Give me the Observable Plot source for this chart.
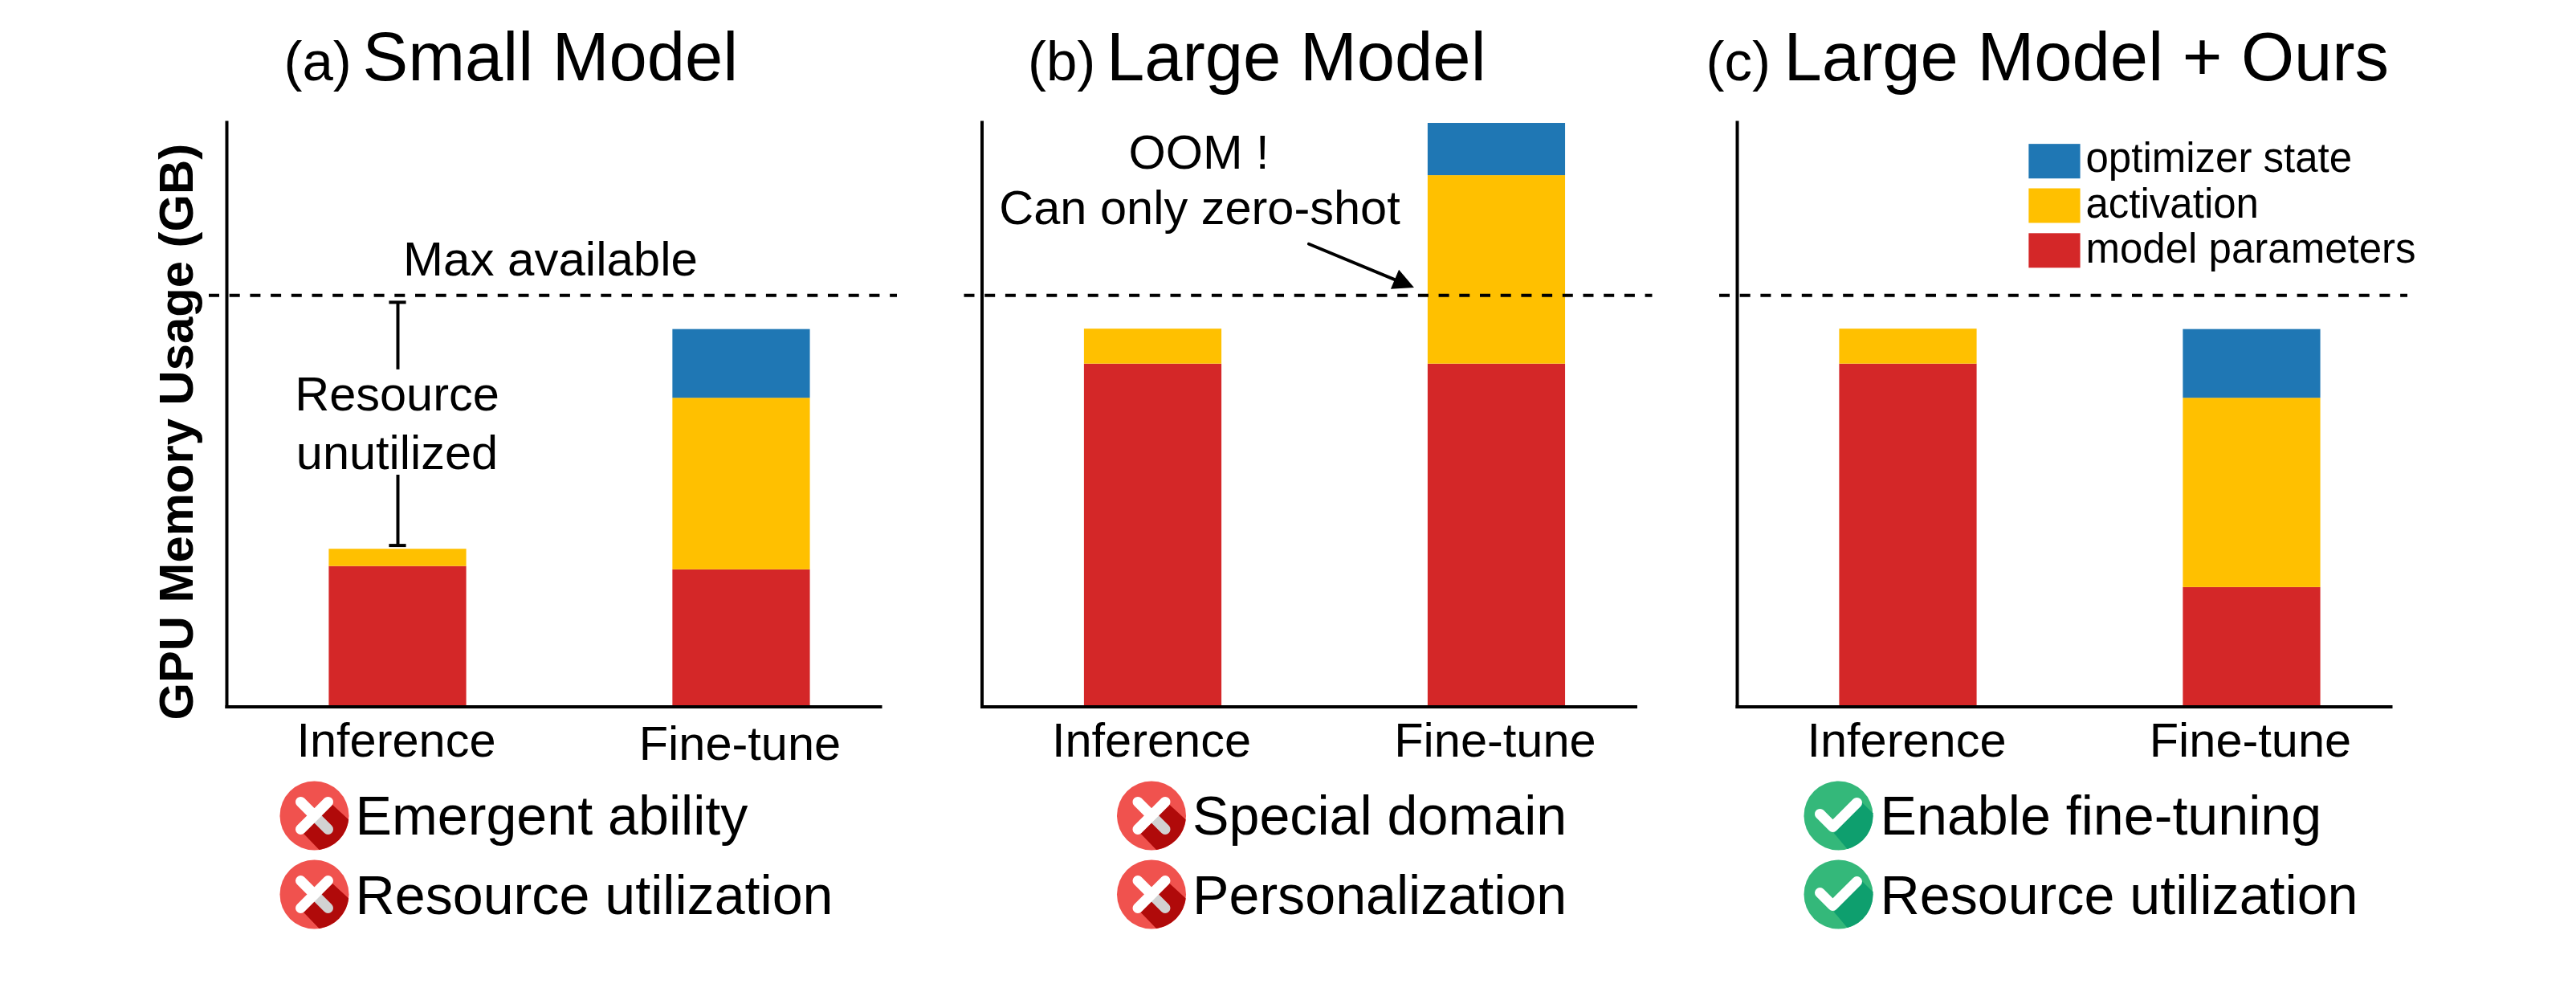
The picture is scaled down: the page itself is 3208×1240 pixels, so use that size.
<!DOCTYPE html>
<html>
<head>
<meta charset="utf-8">
<style>
html,body{margin:0;padding:0;background:#fff;overflow:hidden}
svg{display:block}
</style>
<script src="https://cdn.jsdelivr.net/npm/d3@7"></script>
<script src="https://cdn.jsdelivr.net/npm/@observablehq/plot@0.6"></script>
</head>
<body>
<div id="chart"></div>
<script>
const panels = ["a", "b", "c"];
const panelTags = ["(a)", "(b)", "(c)"];
const panelTitles = ["Small Model", "Large Model", "Large Model + Ours"];
const stages = ["Inference", "Fine-tune"];
const series = ["model parameters", "activation", "optimizer state"];
const seriesColors = ["#D42728", "#FFC000", "#1F77B4"];
const yTitle = "GPU Memory Usage (GB)";
const maxAvailable = 10;

const smallInference = [3.41, 0.42, 0];
const smallFineTune = [3.33, 4.17, 1.67];
const largeInference = [8.33, 0.85, 0];
const largeFineTune = [8.33, 4.58, 1.27];
const oursInference = [8.33, 0.85, 0];
const oursFineTune = [2.90, 4.60, 1.67];

const featureLabels = [
  ["Emergent ability", "Resource utilization"],
  ["Special domain", "Personalization"],
  ["Enable fine-tuning", "Resource utilization"]
];
const featureOk = [false, false, true];

const table = [
  ["a", "Inference", smallInference], ["a", "Fine-tune", smallFineTune],
  ["b", "Inference", largeInference], ["b", "Fine-tune", largeFineTune],
  ["c", "Inference", oursInference], ["c", "Fine-tune", oursFineTune]
];
const rows = table.flatMap(([panel, stage, vals]) =>
  vals.map((value, i) => ({panel, stage, series: series[i], value})).filter(d => d.value > 0));
const tickRows = table.map(([panel, stage]) => ({panel, stage}));

const FONT = "'Liberation Sans', Arial, sans-serif";

/* small glyphs, drawn as Plot symbols (unit = px at r = 43) */
const shape = (fn) => ({draw(ctx, size) { fn(ctx, Math.sqrt(size / Math.PI) / 43); }});
const disc = shape((c, k) => { c.moveTo(43 * k, 0); c.arc(0, 0, 43 * k, 0, 2 * Math.PI); });
const crossShadow = shape((c, k) => {
  c.moveTo(-15.7 * k, 20 * k); c.lineTo(6 * k, 42.6 * k);
  c.arc(0, 0, 43 * k, Math.atan2(41.7, 6), Math.atan2(5, 42.7), true);
  c.lineTo(21 * k, -15 * k); c.closePath();
});
const checkShadow = shape((c, k) => {
  c.moveTo(-5.7 * k, 21.7 * k); c.lineTo(11 * k, 41.5 * k);
  c.arc(0, 0, 43 * k, Math.atan2(40, 11), Math.atan2(-3.3, 42.7), true);
  c.lineTo(27.7 * k, -18 * k); c.closePath();
});
const crossWhite = shape((c, k) => {
  c.moveTo(-17 * k, 17 * k); c.lineTo(17 * k, -17 * k);
  c.moveTo(-17 * k, -17 * k); c.lineTo(0, 0);
});
const crossGrey = shape((c, k) => { c.moveTo(3 * k, 3 * k); c.lineTo(17 * k, 17 * k); });
const checkWhite = shape((c, k) => {
  c.moveTo(-23 * k, -2 * k); c.lineTo(-7 * k, 14 * k); c.lineTo(23 * k, -16 * k);
});
const arrowHead = {draw(c) { c.moveTo(0, 0); c.lineTo(-26, -13); c.lineTo(-26, 13); c.closePath(); }};

/* text placed by a y value (GB) and an offset from the panel's left edge */
const label = (panel, text, y, dx, opts = {}) =>
  Plot.text([text], {
    text: d => d, fx: () => panel, y: () => y, frameAnchor: "left", dx,
    textAnchor: "start", lineAnchor: "bottom", fontSize: 59.5, fill: "#000", ...opts
  });

const tagX = [71, 57, -39], titleX = [169, 155, 58];
const iconX = [109, 211, 126], featTextX = [160, 262, 178];
const featY = [-2.646, -4.56], featTextY = [-3.104, -5.03];
const tickStyle = {x: "stage", fx: "panel", tickFormat: d => d.stage, fontSize: 59.5, tickSize: 0, label: null, dx: -2, fill: "#000"};

const marks = [
  Plot.barY(rows, {x: "stage", y: "value", fill: "series", fx: "panel"}),
  Plot.frame({anchor: "left", stroke: "#000", strokeWidth: 4}),
  Plot.frame({anchor: "bottom", stroke: "#000", strokeWidth: 4}),
  Plot.ruleY([maxAvailable], {stroke: "#000", strokeWidth: 4, strokeDasharray: "13 12.7", insetLeft: -22, insetRight: -21}),
  Plot.axisX(tickRows.filter(d => !(d.panel === "a" && d.stage === "Fine-tune")), {...tickStyle, tickPadding: 20}),
  Plot.axisX(tickRows.filter(d => d.panel === "a" && d.stage === "Fine-tune"), {...tickStyle, tickPadding: 24}),
  label("a", yTitle, 6.68, -43, {rotate: -90, textAnchor: "middle", fontWeight: "bold", fontSize: 59.8}),
  label("a", "Max available", 10.48, 403, {textAnchor: "middle", fontSize: 60}),
  label("a", "Resource", 7.21, 212, {textAnchor: "middle"}),
  label("a", "unutilized", 5.78, 212, {textAnchor: "middle"}),
  Plot.ruleX([[9.83, 8.19], [5.63, 3.92]], {x: () => "Inference", fx: () => "a", y1: d => d[0], y2: d => d[1], stroke: "#000", strokeWidth: 4}),
  Plot.tickY([9.83, 3.92], {x: () => "Inference", fx: () => "a", y: d => d, stroke: "#000", strokeWidth: 4, insetLeft: 75, insetRight: 75}),
  label("b", "OOM !", 13.07, 270, {textAnchor: "middle"}),
  label("b", "Can only zero-shot", 11.74, 271, {textAnchor: "middle"}),
  Plot.arrow([0], {x1: () => "Inference", x2: () => "Fine-tune", y1: () => 12.82, y2: () => 9.35, fx: () => "b",
    bend: 0, headLength: 0, insetStart: 210, insetEnd: 118, stroke: "#000", strokeWidth: 4}),
  Plot.dot([0], {x: () => "Fine-tune", y: () => 10.19, fx: () => "b", dx: -103, r: 10, rotate: 22.9, symbol: arrowHead, fill: "#000", stroke: "none"}),
  /* legend */
  Plot.barY([13.67, 12.59, 11.50].map((top, i) => ({top, s: series[2 - i]})), {
    x: () => "Fine-tune", fx: () => "c", y1: d => d.top, y2: d => d.top - 0.84, fill: "s", insetLeft: -192, insetRight: 299}),
  label("c", series[2], 13.0, 434, {fontSize: 51}),
  label("c", series[1], 11.88, 434, {fontSize: 51}),
  label("c", series[0], 10.8, 434, {fontSize: 51})
];

panels.forEach((p, i) => {
  marks.push(label(p, panelTags[i], 15.23, tagX[i], {fontSize: 69}));
  marks.push(label(p, panelTitles[i], 15.23, titleX[i], {fontSize: 85}));
  const ok = featureOk[i];
  featureLabels[i].forEach((t, j) => {
    const at = {fx: () => p, y: () => featY[j], frameAnchor: "left", dx: iconX[i], r: 43};
    marks.push(Plot.dot([0], {...at, symbol: disc, fill: ok ? "#34B87A" : "#F0524E", stroke: "none"}));
    marks.push(Plot.dot([0], {...at, symbol: ok ? checkShadow : crossShadow, fill: ok ? "#0E9F6E" : "#B00A0A", stroke: "none"}));
    if (ok) {
      marks.push(Plot.dot([0], {...at, symbol: checkWhite, fill: "none", stroke: "#fff", strokeWidth: 13, strokeLinecap: "round", strokeLinejoin: "round"}));
    } else {
      marks.push(Plot.dot([0], {...at, symbol: crossGrey, fill: "none", stroke: "#D2D2D2", strokeWidth: 13, strokeLinecap: "round"}));
      marks.push(Plot.dot([0], {...at, symbol: crossWhite, fill: "none", stroke: "#fff", strokeWidth: 13, strokeLinecap: "round"}));
    }
    marks.push(label(p, t, featTextY[j], featTextX[i], {fontSize: 68.2}));
  });
});

const chart = Plot.plot({
  width: 3208, height: 1240,
  marginTop: 152, marginBottom: 360.6, marginLeft: 282, marginRight: 231,
  style: {fontFamily: FONT, background: "#fff", overflow: "visible"},
  fx: {domain: panels, paddingInner: 0.1345, paddingOuter: 0, axis: null, round: false},
  x: {domain: stages, paddingInner: 0.6, paddingOuter: 0.251, align: 0.593, round: false, axis: null},
  y: {domain: [0, 14.2], axis: null},
  color: {domain: series, range: seriesColors},
  marks
});
document.getElementById("chart").append(chart);
</script>
</body>
</html>
